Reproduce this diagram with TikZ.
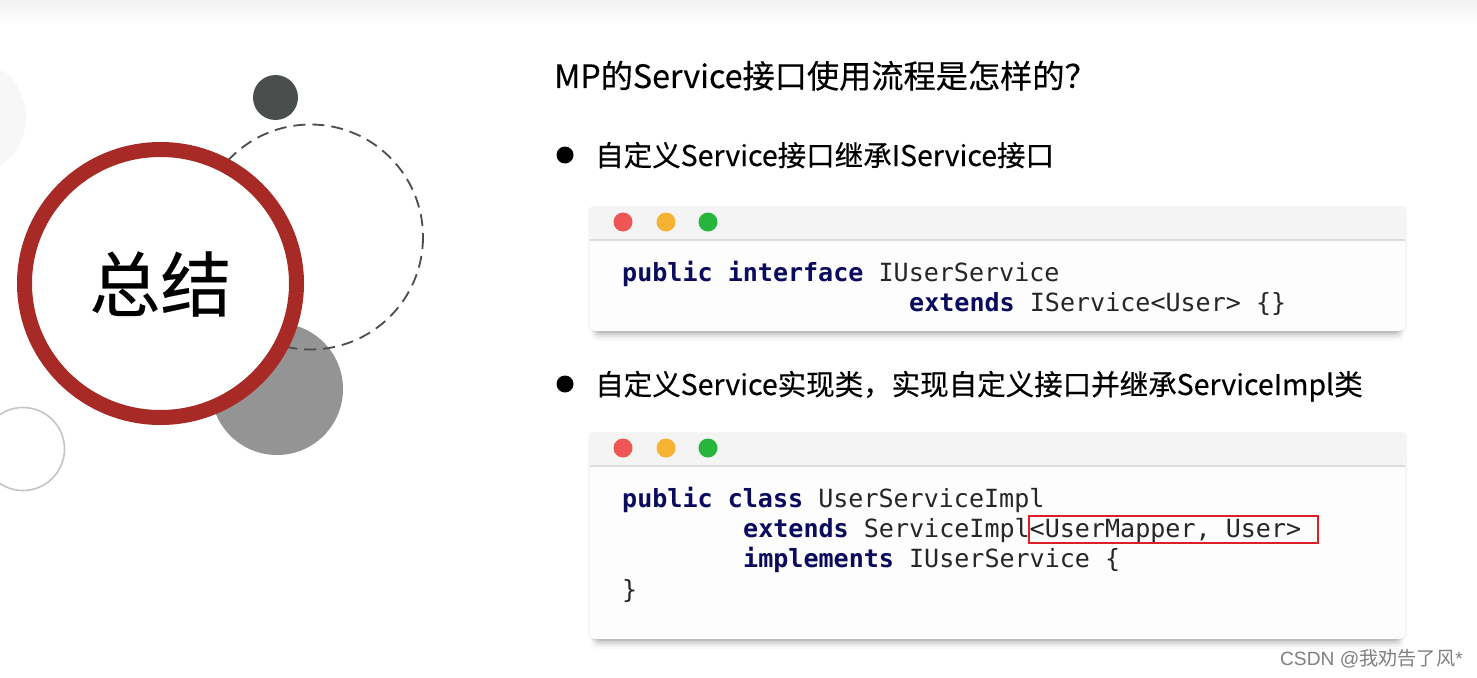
\documentclass[tikz,border=0pt]{standalone}
\usepackage{fontspec}
\usetikzlibrary{shapes.geometric}
\setmainfont{Noto Sans CJK SC}
\newfontfamily\medfont[FakeBold=0.35]{Noto Sans CJK SC}
\newfontfamily\codefont{DejaVu Sans Mono}
\newfontfamily\wmfont{Liberation Sans}
\newfontfamily\cjkwm{Noto Sans CJK SC}
\definecolor{ringred}{HTML}{A82A27}
\definecolor{kw}{HTML}{0B0B5E}
\definecolor{codebg}{HTML}{FCFDFC}
\definecolor{barbg}{HTML}{F4F4F4}
\definecolor{barline}{HTML}{DCDDDC}
\definecolor{lightred}{HTML}{EE5555}
\definecolor{lightyel}{HTML}{F5B331}
\definecolor{lightgrn}{HTML}{27B53E}
\definecolor{darkdot}{HTML}{4A4F4D}
\definecolor{boxred}{HTML}{DD2027}
\tikzset{
  x=1pt,y=-1pt,
  codeline/.style={anchor=base west,inner sep=0pt,font=\codefont\fontsize{25.05}{25}\selectfont,text=black!85},
  heading/.style={anchor=base west,inner sep=0pt,font=\medfont\fontsize{32.2}{32}\selectfont,text=black},
  item/.style={anchor=base west,inner sep=0pt,font=\medfont\fontsize{28.5}{29}\selectfont,text=black},
  dot/.style={circle,inner sep=0pt,minimum size=#1},
}
\newcommand{\kwd}[1]{{\bfseries\color{kw}#1}}
\newcommand{\codewin}[3]{% top, bottom, divider
  \foreach \o/\a in {10/0.02,8/0.03,6/0.05,4/0.07,2/0.10}{
    \fill[black,opacity=\a,rounded corners=6pt] (596-\o/2,#1+4) rectangle (1399+\o/2,#2+\o);
  }
  \fill[black,opacity=0.04,rounded corners=6pt] (588,#1-1) rectangle (1407,#2+1);
  \fill[codebg,rounded corners=5pt] (590,#1) rectangle (1405,#2);
  \fill[barbg,rounded corners=5pt] (590,#3) -- (590,#1) -- (1405,#1) -- (1405,#3) -- cycle;
  \draw[barline,line width=2pt] (590,#3) -- (1405,#3);
}
\begin{document}
\begin{tikzpicture}
\useasboundingbox (0,0) rectangle (1477,677);
\fill[white] (0,0) rectangle (1477,677);
\foreach \y/\g in {0/5,3/4.5,6/4,9/3.2,12/2.4,15/1.5,18/0.7}{
  \fill[black!\g] (0,\y) rectangle (1477,\y+3);
}
% left decorations
\begin{scope}
\clip (0,0) rectangle (1477,677);
\fill[black!3] (-33,117) circle (59);
\fill[black!42] (277,389) circle (66);
\draw[black!70,line width=1.8pt,dash pattern=on 12pt off 7pt] (310.5,237) circle (112.5);
\draw[black!23,line width=1.6pt] (23,449) circle (41.5);
\end{scope}
\node[dot=45pt,fill=darkdot] (smalldot) at (275.5,97.5) {};
\node[ellipse,draw=ringred,line width=15pt,fill=white,minimum width=272pt,minimum height=268pt,inner sep=0pt] (ring) at (160.5,283.5) {};
\node[inner sep=0pt,font=\medfont\fontsize{71}{71}\selectfont,text=black] (sum) at (160.5,284) {总结};
% headings
\node[heading] (title) at (554,88) {MP的Service接口使用流程是怎样的？};
\node[dot=17pt,fill=black] (b1) at (565,155) {};
\node[item] (t1) at (595,166) {自定义Service接口继承IService接口};
\node[dot=17pt,fill=black] (b2) at (565,384) {};
\node[item] (t2) at (595,395) {自定义Service实现类，实现自定义接口并继承ServiceImpl类};
% window 1
\codewin{207}{331}{240}
\node[dot=19pt,fill=lightred] (r1) at (623,222) {};
\node[dot=19pt,fill=lightyel] (y1) at (666,222) {};
\node[dot=19pt,fill=lightgrn] (g1) at (708,222) {};
\node[codeline] (c1a) at (622,281) {\kwd{public interface} IUserService};
\node[codeline] (c1b) at (909,311) {\kwd{extends} IService<User> \{\}};
% window 2
\codewin{433}{639}{466}
\node[dot=19pt,fill=lightred] (r2) at (623,448) {};
\node[dot=19pt,fill=lightyel] (y2) at (666,448) {};
\node[dot=19pt,fill=lightgrn] (g2) at (708,448) {};
\node[codeline] (c2a) at (622,507) {\kwd{public class} UserServiceImpl};
\node[codeline] (c2b) at (743,537) {\kwd{extends} ServiceImpl<UserMapper, User>};
\node[codeline] (c2c) at (743,567) {\kwd{implements} IUserService \{};
\node[codeline] (c2d) at (622,598) {\}};
\draw[boxred,line width=2pt] (1029,515.5) rectangle (1318,543);
% watermark
\node[anchor=base east,inner sep=0pt,text=black!50,font=\wmfont\fontsize{19.2}{19.2}\selectfont] (wm) at (1463,665) {CSDN @{\cjkwm 我劝告了风}*};
\end{tikzpicture}
\end{document}
